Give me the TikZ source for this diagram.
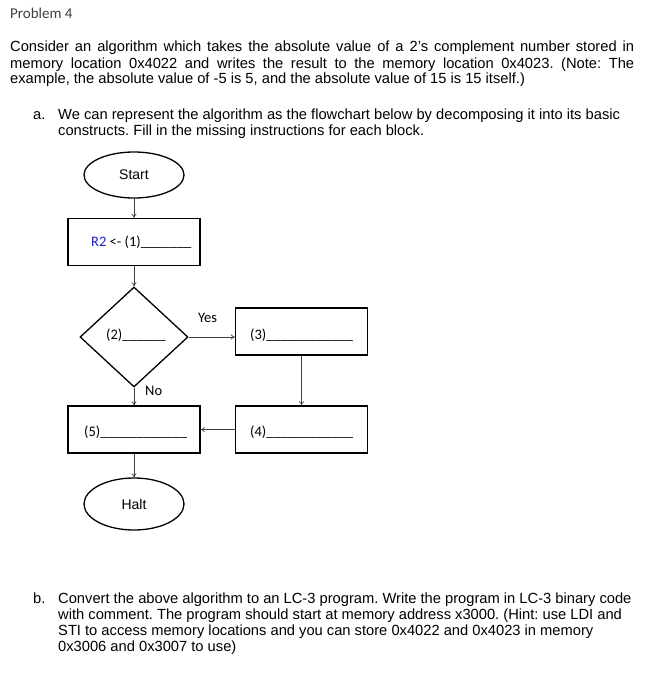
\documentclass[tikz,border=0pt]{standalone}
\usepackage{fontspec}
\setmainfont{Liberation Sans}
\newfontfamily\headfont{Carlito}
\usetikzlibrary{shapes.geometric,arrows.meta}
\definecolor{linegray}{HTML}{404040}
\definecolor{rblue}{HTML}{2020C0}
\begin{document}
\frenchspacing
\begin{tikzpicture}[x=1pt,y=-1pt,
  para/.style={anchor=base west,inner sep=0pt,font=\fontsize{14.7}{16}\selectfont},
  flow/.style={font=\headfont\fontsize{14.5}{16}\selectfont,inner sep=0pt,anchor=base west},
  ovaltext/.style={font=\fontsize{14}{16}\selectfont,inner sep=0pt},
  blk/.style={draw=black,line width=1.3pt,minimum width=132pt,minimum height=47pt},
  oval/.style={ellipse,draw=black,line width=1.3pt,minimum width=100pt,minimum height=46pt},
  conn/.style={draw=linegray,line width=0.7pt,-{To[length=4pt,width=5pt]}}]
\useasboundingbox (0,0) rectangle (668,693);
\fill[white] (0,0) rectangle (668,693);
% heading
\node[anchor=base west,inner sep=0pt,text=black!75,font=\headfont\fontsize{15}{17}\selectfont] (h) at (10,18.5) {Problem 4};
\node[para] (p1) at (10,52) {\hbox to 624pt{Consider an algorithm which takes the absolute value of a 2's complement number stored in}};
\node[para] (p2) at (10,68) {\hbox to 624pt{memory location 0x4022 and writes the result to the memory location 0x4023. (Note: The}};
\node[para] (p3) at (10,84) {example, the absolute value of -5 is 5, and the absolute value of 15 is 15 itself.)};
\node[para] (al) at (33,119) {a.};
\node[para] (a1) at (58,119) {We can represent the algorithm as the flowchart below by decomposing it into its basic};
\node[para] (a2) at (58,135) {constructs. Fill in the missing instructions for each block.};
% flowchart
\node[oval,ovaltext] (start) at (134,175) {Start};
\node[blk] (b1) at (134,242) {};
\node[flow] (b1t) at (91,246) {\textcolor{rblue}{R2} <- (1)\_\_\_\_\_\_\_};
\node[diamond,draw=black,line width=1.3pt,minimum width=108pt,minimum height=100pt,inner sep=0pt] (d) at (134,337) {};
\node[flow] (dt) at (106,339) {(2)\_\_\_\_\_\_};
\node[blk] (b3) at (301.5,331.5) {};
\node[flow] (b3t) at (250,339) {(3)\_\_\_\_\_\_\_\_\_\_\_\_};
\node[blk] (b5) at (134,429.5) {};
\node[flow] (b5t) at (84,436) {(5)\_\_\_\_\_\_\_\_\_\_\_\_};
\node[blk] (b4) at (301.5,429.5) {};
\node[flow] (b4t) at (250,436) {(4)\_\_\_\_\_\_\_\_\_\_\_\_};
\node[oval,ovaltext,minimum height=52pt] (halt) at (134,504) {Halt};
\draw[conn] (start) -- (b1);
\draw[conn] (b1) -- (d);
\draw[conn] (d.east) -- (b3.west |- d.east);
\node[flow] (yes) at (198,322) {Yes};
\draw[conn] (b3) -- (b4);
\draw[conn] (d) -- (b5);
\node[flow] (no) at (145,395) {No};
\draw[conn] (b4) -- (b5);
\draw[conn] (b5) -- (halt);
% part b
\node[para] (bl) at (33,603) {b.};
\node[para] (bb1) at (58,603) {Convert the above algorithm to an LC-3 program. Write the program in LC-3 binary code};
\node[para] (bb2) at (58,619) {with comment. The program should start at memory address x3000. (Hint: use LDI and};
\node[para] (bb3) at (58,635) {STI to access memory locations and you can store 0x4022 and 0x4023 in memory};
\node[para] (bb4) at (58,651) {0x3006 and 0x3007 to use)};
\end{tikzpicture}
\end{document}
